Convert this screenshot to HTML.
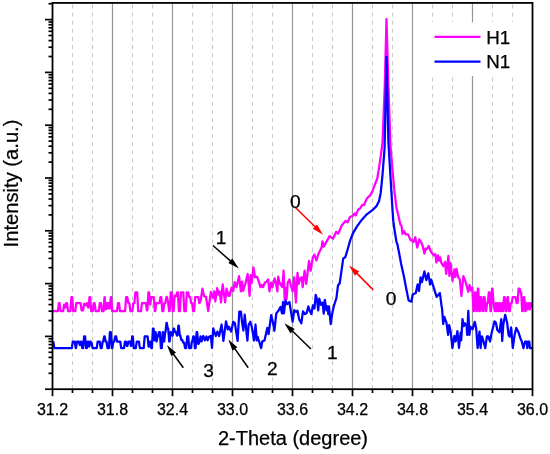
<!DOCTYPE html>
<html><head><meta charset="utf-8"><title>XRD</title>
<style>
html,body{margin:0;padding:0;background:#fff;}
body{width:550px;height:454px;overflow:hidden;}
svg{display:block;}
text{font-family:"Liberation Sans",Arial,sans-serif;fill:#000;stroke:#000;stroke-width:0.25px;}
</style></head><body>
<svg width="550" height="454" viewBox="0 0 550 454">
<rect width="550" height="454" fill="#fff"/>
<g id="grid">
<line x1="72.5" y1="2.9" x2="72.5" y2="389.2" stroke="#cacaca" stroke-width="1.15" stroke-dasharray="3.9 4.2" stroke-dashoffset="6.4"/>
<line x1="92.5" y1="2.9" x2="92.5" y2="389.2" stroke="#cacaca" stroke-width="1.15" stroke-dasharray="3.9 4.2" stroke-dashoffset="6.4"/>
<line x1="112.5" y1="2.9" x2="112.5" y2="389.2" stroke="#969696" stroke-width="1.2"/>
<line x1="132.5" y1="2.9" x2="132.5" y2="389.2" stroke="#cacaca" stroke-width="1.15" stroke-dasharray="3.9 4.2" stroke-dashoffset="6.4"/>
<line x1="152.5" y1="2.9" x2="152.5" y2="389.2" stroke="#cacaca" stroke-width="1.15" stroke-dasharray="3.9 4.2" stroke-dashoffset="6.4"/>
<line x1="172.5" y1="2.9" x2="172.5" y2="389.2" stroke="#969696" stroke-width="1.2"/>
<line x1="192.5" y1="2.9" x2="192.5" y2="389.2" stroke="#cacaca" stroke-width="1.15" stroke-dasharray="3.9 4.2" stroke-dashoffset="6.4"/>
<line x1="212.5" y1="2.9" x2="212.5" y2="389.2" stroke="#cacaca" stroke-width="1.15" stroke-dasharray="3.9 4.2" stroke-dashoffset="6.4"/>
<line x1="232.5" y1="2.9" x2="232.5" y2="389.2" stroke="#969696" stroke-width="1.2"/>
<line x1="252.5" y1="2.9" x2="252.5" y2="389.2" stroke="#cacaca" stroke-width="1.15" stroke-dasharray="3.9 4.2" stroke-dashoffset="6.4"/>
<line x1="272.5" y1="2.9" x2="272.5" y2="389.2" stroke="#cacaca" stroke-width="1.15" stroke-dasharray="3.9 4.2" stroke-dashoffset="6.4"/>
<line x1="292.5" y1="2.9" x2="292.5" y2="389.2" stroke="#969696" stroke-width="1.2"/>
<line x1="312.5" y1="2.9" x2="312.5" y2="389.2" stroke="#cacaca" stroke-width="1.15" stroke-dasharray="3.9 4.2" stroke-dashoffset="6.4"/>
<line x1="332.5" y1="2.9" x2="332.5" y2="389.2" stroke="#cacaca" stroke-width="1.15" stroke-dasharray="3.9 4.2" stroke-dashoffset="6.4"/>
<line x1="352.5" y1="2.9" x2="352.5" y2="389.2" stroke="#969696" stroke-width="1.2"/>
<line x1="372.5" y1="2.9" x2="372.5" y2="389.2" stroke="#cacaca" stroke-width="1.15" stroke-dasharray="3.9 4.2" stroke-dashoffset="6.4"/>
<line x1="392.5" y1="2.9" x2="392.5" y2="389.2" stroke="#cacaca" stroke-width="1.15" stroke-dasharray="3.9 4.2" stroke-dashoffset="6.4"/>
<line x1="412.5" y1="2.9" x2="412.5" y2="389.2" stroke="#969696" stroke-width="1.2"/>
<line x1="432.5" y1="2.9" x2="432.5" y2="389.2" stroke="#cacaca" stroke-width="1.15" stroke-dasharray="3.9 4.2" stroke-dashoffset="6.4"/>
<line x1="452.5" y1="2.9" x2="452.5" y2="389.2" stroke="#cacaca" stroke-width="1.15" stroke-dasharray="3.9 4.2" stroke-dashoffset="6.4"/>
<line x1="472.5" y1="2.9" x2="472.5" y2="389.2" stroke="#969696" stroke-width="1.2"/>
<line x1="492.5" y1="2.9" x2="492.5" y2="389.2" stroke="#cacaca" stroke-width="1.15" stroke-dasharray="3.9 4.2" stroke-dashoffset="6.4"/>
<line x1="512.5" y1="2.9" x2="512.5" y2="389.2" stroke="#cacaca" stroke-width="1.15" stroke-dasharray="3.9 4.2" stroke-dashoffset="6.4"/>
</g>
<polyline points="53.0,311.2 57.5,311.2 57.9,311.2 58.9,303.1 59.3,303.1 59.6,303.1 60.6,311.2 61.0,311.2 63.0,311.2 63.1,311.2 64.2,304.5 64.3,304.5 65.3,307.6 65.3,307.6 66.3,303.1 66.4,303.1 67.0,303.1 68.0,311.2 68.5,311.2 70.0,311.2 70.4,311.2 71.4,297.1 71.8,297.1 72.2,297.1 73.2,311.2 73.7,311.2 75.0,311.2 75.3,311.2 76.3,303.1 76.7,303.1 80.0,303.1 80.6,303.1 81.6,310.3 82.2,310.3 83.1,310.3 84.1,303.8 84.9,303.8 86.0,305.3 86.0,305.3 87.0,303.1 87.1,303.1 87.2,303.1 88.2,307.6 88.3,307.6 88.5,307.6 89.5,297.1 89.8,297.1 90.2,297.1 91.2,311.2 91.5,311.2 92.5,311.2 92.8,311.2 93.8,303.1 94.2,303.1 94.6,303.1 95.6,311.2 96.0,311.2 98.5,311.2 98.8,311.2 99.8,303.1 100.0,303.1 101.0,303.1 102.0,311.2 103.4,311.2 103.5,311.2 104.5,297.1 104.6,297.1 104.7,297.1 105.7,309.3 105.7,309.3 106.6,303.1 107.4,308.5 108.1,303.1 108.8,303.1 109.6,308.5 109.8,308.5 110.8,297.1 110.9,297.1 111.2,297.1 112.2,311.2 112.4,311.2 116.5,311.2 117.0,311.2 118.0,303.1 118.5,303.1 119.0,303.1 120.0,311.2 120.5,311.2 124.5,311.2 125.1,311.2 126.1,297.1 126.7,297.1 127.3,297.1 128.3,303.1 128.9,303.1 129.4,303.1 130.4,311.2 131.0,311.2 132.0,311.2 132.4,311.2 133.4,303.1 133.8,303.1 134.4,303.1 135.4,292.4 136.0,292.4 137.2,292.4 138.2,311.2 139.3,311.2 140.5,311.2 141.0,311.2 142.0,303.1 142.5,303.1 145.8,303.1 145.9,303.1 146.9,310.3 147.0,310.3 147.4,310.3 148.4,292.4 148.9,292.4 149.1,292.4 150.1,304.5 150.2,304.5 150.2,304.5 151.2,297.1 151.3,297.1 153.6,297.1 153.8,297.1 154.8,311.2 155.0,311.2 155.2,311.2 156.2,303.1 156.5,303.1 159.3,303.1 159.4,303.1 160.4,297.1 160.6,297.1 161.3,297.1 162.3,311.2 163.0,311.2 163.3,311.2 164.3,303.1 164.7,303.1 165.3,303.1 166.3,297.1 167.0,297.1 168.0,301.8 168.1,301.8 169.1,311.2 169.2,311.2 169.7,311.2 170.7,292.4 171.2,292.4 171.7,292.4 172.7,311.2 173.2,311.2 173.6,311.2 174.6,295.6 175.0,295.6 176.0,296.1 176.2,296.1 177.2,292.4 177.3,292.4 177.9,292.4 178.9,311.2 179.4,311.2 179.9,311.2 180.9,292.4 181.5,292.4 182.7,292.4 183.3,292.4 184.3,311.2 184.9,311.2 185.8,311.2 186.8,292.4 187.6,292.4 188.2,292.4 189.2,297.1 189.8,297.1 190.2,297.1 191.2,303.1 191.5,303.1 192.1,303.1 193.1,311.2 193.6,311.2 194.1,311.2 195.1,297.1 195.5,297.1 198.0,297.1 198.3,297.1 199.3,303.1 199.6,303.1 200.8,300.0 202.4,288.7 204.1,296.3 206.0,296.9 208.2,311.0 210.9,292.0 212.9,298.0 214.2,291.4 215.3,301.3 217.2,288.2 218.5,294.7 219.6,291.4 221.0,302.3 222.7,284.4 225.1,302.3 226.5,288.7 228.1,295.8 228.9,292.5 229.7,295.8 231.6,287.6 233.3,290.9 234.7,282.2 236.5,287.1 239.0,276.2 240.9,291.4 242.0,281.6 243.1,290.9 245.3,283.8 247.7,274.0 249.6,295.8 250.7,275.1 251.8,282.7 253.4,267.5 255.1,277.3 257.0,276.7 258.8,281.6 260.5,287.1 261.8,284.9 263.2,287.1 264.8,282.7 266.5,281.6 268.1,279.4 269.5,291.4 271.1,282.7 272.4,287.1 274.6,278.4 275.7,281.6 277.4,291.4 278.2,276.7 279.5,282.7 282.3,287.1 283.6,270.7 284.7,299.5 285.5,288.2 286.6,299.0 287.7,282.7 289.4,279.4 291.0,286.0 292.6,291.4 294.3,277.3 295.9,302.5 297.5,272.9 298.6,283.8 300.3,278.4 301.7,277.3 302.7,287.1 304.6,270.7 306.3,283.8 309.0,260.9 310.6,270.7 312.8,257.6 314.4,254.6 316.4,260.5 318.4,253.9 321.7,247.3 322.4,241.3 323.7,246.6 329.6,236.1 333.0,238.7 336.2,231.8 338.2,233.8 341.9,225.2 345.4,221.1 347.7,222.3 350.0,217.0 352.9,215.8 354.7,213.5 355.9,215.3 358.2,209.4 360.0,208.5 362.3,204.8 364.0,205.0 366.4,199.5 367.4,197.9 369.9,195.6 372.4,191.2 374.9,184.6 377.4,178.0 379.0,168.1 380.7,156.5 382.5,143.0 384.8,85.0 386.5,19.0 388.2,80.0 390.5,146.0 392.5,170.0 394.5,192.0 396.5,208.0 398.7,217.0 400.4,224.6 401.5,225.7 402.5,233.9 404.2,231.2 405.8,234.4 408.0,234.4 410.7,240.4 411.8,239.9 413.4,242.1 415.3,237.2 417.3,247.5 419.2,239.4 421.1,242.1 422.7,246.0 424.4,253.6 425.5,248.7 426.8,249.3 428.7,246.0 430.9,251.5 433.6,255.3 435.3,254.2 436.4,262.4 438.0,255.3 439.1,260.7 440.2,257.4 441.3,262.9 443.4,266.2 445.1,261.8 446.2,273.8 448.4,255.8 449.4,276.0 450.5,262.9 452.5,280.9 454.4,269.4 455.4,277.1 456.5,268.9 458.2,277.1 459.8,279.3 461.4,296.0 463.4,276.1 466.1,283.6 468.2,291.8 469.5,285.0 470.9,290.5 472.3,287.7 473.6,311.2 474.0,311.2 475.0,292.4 475.3,292.4 475.5,292.4 476.5,311.2 476.6,311.2 476.9,311.2 477.9,288.5 478.1,288.5 478.3,288.5 479.3,311.2 479.5,311.2 479.8,311.2 480.8,297.1 481.1,297.1 481.4,297.1 482.4,311.2 482.6,311.2 483.0,311.2 484.0,297.1 484.3,297.1 484.6,297.1 485.6,311.2 485.9,311.2 486.1,311.2 487.1,303.1 487.3,303.1 487.8,303.1 488.8,292.4 489.3,292.4 489.5,292.4 490.5,311.2 490.7,311.2 491.0,311.2 492.0,288.5 492.3,288.5 492.5,288.5 493.5,303.1 493.7,303.1 494.7,311.2 495.7,303.1 496.7,311.2 497.7,303.1 498.7,311.2 499.7,303.1 500.7,311.2 501.7,303.1 502.7,311.2 503.0,311.2 504.0,297.1 504.3,297.1 504.6,297.1 505.6,311.2 506.0,311.2 506.4,311.2 507.4,297.1 507.7,297.1 508.0,297.1 509.0,311.2 509.4,311.2 509.8,311.2 510.8,303.1 511.1,303.1 511.7,303.1 512.7,297.1 513.2,297.1 515.2,297.1 515.6,297.1 516.6,303.1 517.0,303.1 517.6,303.1 518.6,288.5 519.3,288.5 519.6,288.5 520.6,292.4 521.0,292.4 521.2,292.4 522.2,311.2 522.5,311.2 522.8,311.2 523.8,297.1 524.1,297.1 524.3,297.1 525.3,311.2 525.5,311.2 525.6,311.2 526.6,303.1 526.8,303.1 527.8,309.3 528.8,303.1 529.8,309.3 530.8,303.1 531.0,303.1 532.0,306.8 532.2,306.8" fill="none" stroke="#ff00ff" stroke-width="2.25" stroke-linejoin="round"/>
<polyline points="53.3,341.5 53.3,341.5 54.3,348.1 54.4,348.1 71.3,348.1 71.8,348.1 72.8,341.5 73.4,341.5 74.5,341.5 74.7,341.5 75.7,348.1 75.8,348.1 76.0,348.1 77.0,341.5 77.3,341.5 78.6,341.5 78.8,341.5 79.8,345.2 80.0,345.2 80.0,345.2 81.0,341.5 81.1,341.5 81.3,341.5 82.3,348.1 82.5,348.1 83.1,348.1 84.1,336.4 84.7,336.4 85.1,336.4 86.1,348.1 86.5,348.1 86.8,348.1 87.8,341.5 88.2,341.5 88.2,341.5 89.2,346.6 89.3,346.6 90.3,341.5 91.4,342.7 91.6,342.7 92.6,348.1 92.7,348.1 96.3,348.1 96.7,348.1 97.7,341.5 98.0,341.5 99.6,341.5 99.7,341.5 100.7,348.1 100.7,348.1 101.6,348.1 101.7,348.1 102.7,341.5 102.7,341.5 103.2,341.5 104.2,336.4 104.6,336.4 104.7,336.4 105.7,341.5 105.8,341.5 106.5,341.5 107.5,348.1 108.2,348.1 108.9,348.1 109.9,332.2 110.6,332.2 110.8,332.2 111.8,348.1 112.0,348.1 112.3,348.1 113.3,341.5 113.6,341.5 114.2,341.5 115.2,336.4 115.8,336.4 116.1,336.4 117.1,341.5 117.4,341.5 120.2,341.5 120.2,341.5 121.2,348.1 121.3,348.1 123.4,348.1 124.0,348.1 125.0,341.5 125.6,341.5 125.9,341.5 126.9,345.9 127.2,345.9 127.4,345.9 128.4,341.5 128.6,341.5 130.0,341.5 131.0,345.9 131.2,345.9 132.2,336.4 132.5,336.4 132.8,336.4 133.8,348.1 134.0,348.1 135.4,348.1 135.8,348.1 136.8,341.5 137.1,341.5 138.7,341.5 138.9,341.5 139.9,348.1 140.1,348.1 143.1,348.1 143.7,348.1 144.7,336.4 145.3,336.4 147.4,336.4 147.6,336.4 148.6,346.6 148.8,346.6 149.0,346.6 150.0,341.5 150.2,341.5 150.3,341.5 151.3,348.1 151.4,348.1 151.9,348.1 152.9,328.7 153.5,328.7 153.6,328.7 154.6,340.4 154.6,340.4 155.5,332.2 155.6,332.2 156.6,341.5 156.6,341.5 157.6,336.4 157.9,336.4 158.9,332.2 159.3,332.2 159.9,332.2 160.9,348.1 161.5,348.1 161.8,348.1 162.8,332.2 163.1,332.2 163.1,332.2 164.1,341.5 164.2,341.5 164.2,341.5 165.2,332.2 165.3,332.2 165.5,332.2 166.5,322.9 166.7,322.9 166.8,322.9 167.8,328.7 168.0,328.7 168.2,328.7 169.2,341.5 169.4,341.5 169.6,341.5 170.6,332.2 170.7,332.2 171.1,332.2 172.1,335.5 172.4,335.5 172.6,335.5 173.6,328.7 173.7,328.7 174.1,328.7 175.1,332.2 175.6,332.2 175.9,332.2 176.9,335.5 177.3,335.5 177.4,335.5 178.4,325.6 178.6,325.6 178.8,325.6 179.8,335.5 180.0,335.5 180.3,335.5 181.3,339.9 181.6,339.9 182.2,339.9 183.2,342.7 183.8,342.7 184.1,342.7 185.1,348.1 185.4,348.1 186.2,348.1 187.2,336.4 188.0,336.4 188.2,336.4 189.2,348.1 189.3,348.1 190.9,348.1 190.9,348.1 191.9,341.5 192.0,341.5 192.3,341.5 193.3,336.4 193.6,336.4 193.9,336.4 194.9,348.1 195.3,348.1 195.6,348.1 196.6,332.2 196.9,332.2 197.2,332.2 198.2,343.9 198.5,343.9 198.6,343.9 199.6,341.5 199.6,341.5 199.6,341.5 200.6,336.4 200.7,336.4 201.6,341.4 203.3,336.0 204.9,340.3 206.5,336.5 207.6,340.3 209.3,336.5 210.9,336.0 212.0,348.0 213.2,328.4 214.8,333.0 215.9,336.0 217.4,331.6 219.1,336.0 221.6,324.5 223.4,340.9 226.0,321.3 227.8,329.4 228.9,326.7 231.1,331.6 233.3,321.8 234.9,323.4 237.6,340.9 239.3,311.5 240.9,311.5 242.0,321.8 243.4,330.5 244.7,314.7 247.4,340.6 248.6,325.0 250.3,321.8 251.8,327.0 254.1,340.5 255.5,324.5 256.8,340.5 257.7,336.8 261.1,348.2 262.3,341.4 264.5,340.5 267.3,327.9 268.6,334.0 271.2,315.1 273.0,322.7 274.4,330.7 276.3,313.4 278.4,310.7 280.6,306.9 282.0,313.4 283.1,302.0 283.9,313.4 285.5,300.4 287.2,304.2 289.4,302.0 292.6,321.6 294.3,310.2 295.9,311.8 297.5,310.7 299.2,319.4 301.3,323.3 303.0,311.3 305.0,314.1 306.7,313.0 308.3,306.4 310.0,311.4 311.4,314.1 312.9,305.3 314.4,308.6 315.7,294.9 317.1,299.8 318.2,310.3 319.3,298.7 321.0,304.8 322.6,302.6 323.7,313.6 324.8,299.8 326.5,310.3 327.6,306.4 328.3,314.1 329.0,306.4 330.7,324.1 332.5,311.9 334.2,304.8 336.4,298.2 338.0,285.5 339.7,283.3 340.8,275.7 343.2,258.7 345.4,257.0 348.2,247.5 350.0,240.9 352.9,233.4 357.0,226.4 361.7,219.9 366.4,214.7 372.4,210.2 376.5,206.1 379.0,201.2 380.7,192.9 382.5,175.0 384.6,148.0 386.5,56.8 388.4,142.0 390.5,177.0 392.5,210.0 393.3,221.4 394.9,232.3 396.5,242.1 397.4,244.3 399.3,254.0 401.1,263.7 404.0,276.8 406.4,289.5 408.6,300.4 411.4,301.7 412.7,294.5 415.8,293.0 417.6,284.5 419.0,290.9 420.6,277.3 421.9,282.2 424.4,271.4 426.3,280.1 428.3,273.4 430.1,284.5 431.2,279.6 433.9,288.2 436.6,296.9 439.9,293.1 441.5,305.6 442.1,308.7 443.2,324.0 444.3,316.9 446.5,322.9 448.1,334.9 449.2,325.1 450.8,332.7 452.4,348.1 454.4,336.0 455.7,341.4 457.4,331.1 459.0,348.0 460.6,332.7 461.2,340.3 462.5,319.1 463.9,326.2 465.0,323.4 466.6,325.6 467.2,334.9 468.3,310.9 469.4,334.9 470.4,326.7 472.6,329.4 474.8,321.8 476.2,328.4 477.6,348.0 479.5,331.7 480.6,348.0 482.0,336.4 483.6,341.5 485.3,348.1 486.9,336.4 488.3,336.4 490.0,341.5 491.8,332.2 494.5,321.4 495.8,322.5 497.3,330.0 499.4,332.3 501.3,319.2 502.2,341.0 503.3,324.6 505.2,314.8 507.1,322.5 508.7,335.5 509.8,336.6 511.1,327.4 512.8,348.0 514.7,334.4 516.3,327.9 518.5,332.3 520.2,337.7 521.8,341.5 523.4,348.1 525.1,341.5 526.7,341.5 527.3,348.1 528.1,341.5 529.2,341.5 530.0,348.1 532.2,348.1" fill="none" stroke="#0000ff" stroke-width="2.25" stroke-linejoin="round"/>
<rect x="427" y="22.3" width="90" height="53.7" fill="#fff"/>
<line x1="434.5" y1="36.9" x2="480.5" y2="36.9" stroke="#ff00ff" stroke-width="2.4"/>
<line x1="434.5" y1="61.65" x2="480.5" y2="61.65" stroke="#0000ff" stroke-width="2.4"/>
<text x="486.2" y="43.7" font-size="18.8">H1</text>
<text x="486.2" y="68.4" font-size="18.8">N1</text>
<rect x="52.5" y="2.9" width="480.0" height="386.3" fill="none" stroke="#000" stroke-width="1.8"/>
<g stroke="#000" stroke-width="1.7">
<line x1="45.0" y1="389.2" x2="52.5" y2="389.2"/>
<line x1="48.5" y1="373.3" x2="52.5" y2="373.3"/>
<line x1="48.5" y1="364.0" x2="52.5" y2="364.0"/>
<line x1="48.5" y1="357.4" x2="52.5" y2="357.4"/>
<line x1="48.5" y1="352.3" x2="52.5" y2="352.3"/>
<line x1="48.5" y1="348.1" x2="52.5" y2="348.1"/>
<line x1="48.5" y1="344.6" x2="52.5" y2="344.6"/>
<line x1="48.5" y1="341.5" x2="52.5" y2="341.5"/>
<line x1="48.5" y1="338.8" x2="52.5" y2="338.8"/>
<line x1="45.0" y1="336.4" x2="52.5" y2="336.4"/>
<line x1="48.5" y1="320.5" x2="52.5" y2="320.5"/>
<line x1="48.5" y1="311.2" x2="52.5" y2="311.2"/>
<line x1="48.5" y1="304.6" x2="52.5" y2="304.6"/>
<line x1="48.5" y1="299.5" x2="52.5" y2="299.5"/>
<line x1="48.5" y1="295.3" x2="52.5" y2="295.3"/>
<line x1="48.5" y1="291.8" x2="52.5" y2="291.8"/>
<line x1="48.5" y1="288.7" x2="52.5" y2="288.7"/>
<line x1="48.5" y1="286.0" x2="52.5" y2="286.0"/>
<line x1="45.0" y1="283.6" x2="52.5" y2="283.6"/>
<line x1="48.5" y1="267.7" x2="52.5" y2="267.7"/>
<line x1="48.5" y1="258.4" x2="52.5" y2="258.4"/>
<line x1="48.5" y1="251.8" x2="52.5" y2="251.8"/>
<line x1="48.5" y1="246.7" x2="52.5" y2="246.7"/>
<line x1="48.5" y1="242.5" x2="52.5" y2="242.5"/>
<line x1="48.5" y1="239.0" x2="52.5" y2="239.0"/>
<line x1="48.5" y1="235.9" x2="52.5" y2="235.9"/>
<line x1="48.5" y1="233.2" x2="52.5" y2="233.2"/>
<line x1="45.0" y1="230.8" x2="52.5" y2="230.8"/>
<line x1="48.5" y1="214.9" x2="52.5" y2="214.9"/>
<line x1="48.5" y1="205.6" x2="52.5" y2="205.6"/>
<line x1="48.5" y1="199.0" x2="52.5" y2="199.0"/>
<line x1="48.5" y1="193.9" x2="52.5" y2="193.9"/>
<line x1="48.5" y1="189.7" x2="52.5" y2="189.7"/>
<line x1="48.5" y1="186.2" x2="52.5" y2="186.2"/>
<line x1="48.5" y1="183.1" x2="52.5" y2="183.1"/>
<line x1="48.5" y1="180.4" x2="52.5" y2="180.4"/>
<line x1="45.0" y1="178.0" x2="52.5" y2="178.0"/>
<line x1="48.5" y1="162.1" x2="52.5" y2="162.1"/>
<line x1="48.5" y1="152.8" x2="52.5" y2="152.8"/>
<line x1="48.5" y1="146.2" x2="52.5" y2="146.2"/>
<line x1="48.5" y1="141.1" x2="52.5" y2="141.1"/>
<line x1="48.5" y1="136.9" x2="52.5" y2="136.9"/>
<line x1="48.5" y1="133.4" x2="52.5" y2="133.4"/>
<line x1="48.5" y1="130.3" x2="52.5" y2="130.3"/>
<line x1="48.5" y1="127.6" x2="52.5" y2="127.6"/>
<line x1="45.0" y1="125.2" x2="52.5" y2="125.2"/>
<line x1="48.5" y1="109.3" x2="52.5" y2="109.3"/>
<line x1="48.5" y1="100.0" x2="52.5" y2="100.0"/>
<line x1="48.5" y1="93.4" x2="52.5" y2="93.4"/>
<line x1="48.5" y1="88.3" x2="52.5" y2="88.3"/>
<line x1="48.5" y1="84.1" x2="52.5" y2="84.1"/>
<line x1="48.5" y1="80.6" x2="52.5" y2="80.6"/>
<line x1="48.5" y1="77.5" x2="52.5" y2="77.5"/>
<line x1="48.5" y1="74.8" x2="52.5" y2="74.8"/>
<line x1="45.0" y1="72.4" x2="52.5" y2="72.4"/>
<line x1="48.5" y1="56.5" x2="52.5" y2="56.5"/>
<line x1="48.5" y1="47.2" x2="52.5" y2="47.2"/>
<line x1="48.5" y1="40.6" x2="52.5" y2="40.6"/>
<line x1="48.5" y1="35.5" x2="52.5" y2="35.5"/>
<line x1="48.5" y1="31.3" x2="52.5" y2="31.3"/>
<line x1="48.5" y1="27.8" x2="52.5" y2="27.8"/>
<line x1="48.5" y1="24.7" x2="52.5" y2="24.7"/>
<line x1="48.5" y1="22.0" x2="52.5" y2="22.0"/>
<line x1="45.0" y1="19.6" x2="52.5" y2="19.6"/>
<line x1="48.5" y1="3.7" x2="52.5" y2="3.7"/>
<line x1="52.5" y1="389.2" x2="52.5" y2="396.2"/>
<line x1="72.5" y1="389.2" x2="72.5" y2="393.0"/>
<line x1="92.5" y1="389.2" x2="92.5" y2="393.0"/>
<line x1="112.5" y1="389.2" x2="112.5" y2="396.2"/>
<line x1="132.5" y1="389.2" x2="132.5" y2="393.0"/>
<line x1="152.5" y1="389.2" x2="152.5" y2="393.0"/>
<line x1="172.5" y1="389.2" x2="172.5" y2="396.2"/>
<line x1="192.5" y1="389.2" x2="192.5" y2="393.0"/>
<line x1="212.5" y1="389.2" x2="212.5" y2="393.0"/>
<line x1="232.5" y1="389.2" x2="232.5" y2="396.2"/>
<line x1="252.5" y1="389.2" x2="252.5" y2="393.0"/>
<line x1="272.5" y1="389.2" x2="272.5" y2="393.0"/>
<line x1="292.5" y1="389.2" x2="292.5" y2="396.2"/>
<line x1="312.5" y1="389.2" x2="312.5" y2="393.0"/>
<line x1="332.5" y1="389.2" x2="332.5" y2="393.0"/>
<line x1="352.5" y1="389.2" x2="352.5" y2="396.2"/>
<line x1="372.5" y1="389.2" x2="372.5" y2="393.0"/>
<line x1="392.5" y1="389.2" x2="392.5" y2="393.0"/>
<line x1="412.5" y1="389.2" x2="412.5" y2="396.2"/>
<line x1="432.5" y1="389.2" x2="432.5" y2="393.0"/>
<line x1="452.5" y1="389.2" x2="452.5" y2="393.0"/>
<line x1="472.5" y1="389.2" x2="472.5" y2="396.2"/>
<line x1="492.5" y1="389.2" x2="492.5" y2="393.0"/>
<line x1="512.5" y1="389.2" x2="512.5" y2="393.0"/>
<line x1="532.5" y1="389.2" x2="532.5" y2="396.2"/>
</g>
<g font-size="16">
<text x="52.5" y="415.2" text-anchor="middle">31.2</text>
<text x="112.5" y="415.2" text-anchor="middle">31.8</text>
<text x="172.5" y="415.2" text-anchor="middle">32.4</text>
<text x="232.5" y="415.2" text-anchor="middle">33.0</text>
<text x="292.5" y="415.2" text-anchor="middle">33.6</text>
<text x="352.5" y="415.2" text-anchor="middle">34.2</text>
<text x="412.5" y="415.2" text-anchor="middle">34.8</text>
<text x="472.5" y="415.2" text-anchor="middle">35.4</text>
<text x="532.5" y="415.2" text-anchor="middle">36.0</text>
</g>
<text x="293" y="445.3" font-size="20" text-anchor="middle">2-Theta (degree)</text>
<text transform="translate(17.6,183.5) rotate(-90)" font-size="20.2" text-anchor="middle">Intensity (a.u.)</text>
<line x1="212.9" y1="245.5" x2="231.0" y2="261.4" stroke="#000" stroke-width="1.5"/><polygon points="238.9,268.4 228.3,263.0 232.3,258.5" fill="#000"/>
<line x1="183.3" y1="367.7" x2="173.0" y2="353.5" stroke="#000" stroke-width="1.5"/><polygon points="166.9,344.9 176.0,352.5 171.2,356.0" fill="#000"/>
<line x1="248.2" y1="367.7" x2="234.4" y2="348.1" stroke="#000" stroke-width="1.5"/><polygon points="228.3,339.5 237.4,347.2 232.5,350.7" fill="#000"/>
<line x1="310.9" y1="349.0" x2="291.9" y2="330.5" stroke="#000" stroke-width="1.5"/><polygon points="284.4,323.2 294.7,329.1 290.5,333.4" fill="#000"/>
<line x1="295.9" y1="208.0" x2="315.6" y2="227.3" stroke="#f00" stroke-width="1.5"/><polygon points="323.1,234.7 312.8,228.8 317.0,224.5" fill="#f00"/>
<line x1="373.2" y1="289.9" x2="356.4" y2="272.9" stroke="#f00" stroke-width="1.5"/><polygon points="349.0,265.4 359.2,271.5 355.0,275.7" fill="#f00"/>
<g font-size="19.2" text-anchor="middle">
<text x="221.2" y="243.9">1</text>
<text x="295.4" y="207.8">0</text>
<text x="391.1" y="305.2">0</text>
<text x="332.3" y="359.2">1</text>
<text x="272.3" y="374.5">2</text>
<text x="208.6" y="377">3</text>
</g>
</svg>
</body></html>
